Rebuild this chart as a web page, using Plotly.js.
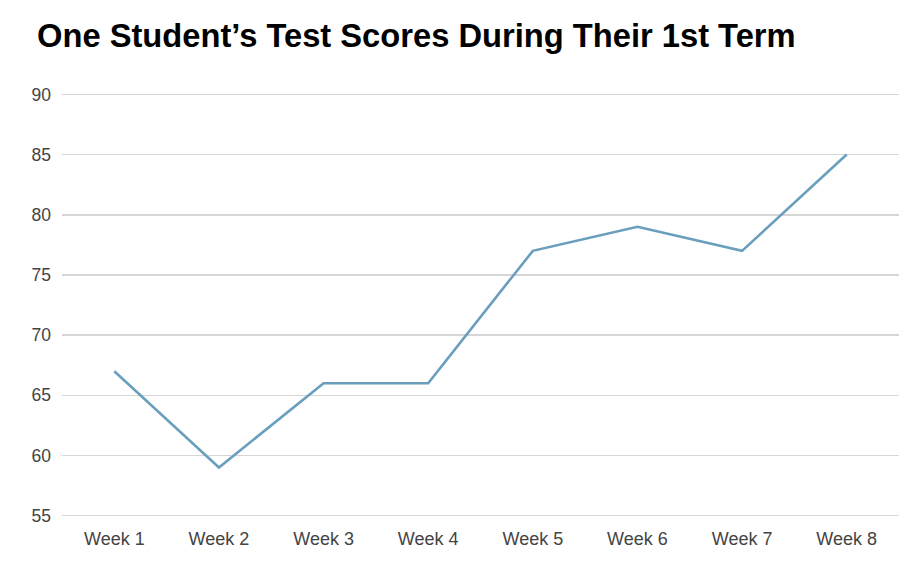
<!DOCTYPE html>
<html><head><meta charset="utf-8">
<script src="https://cdn.plot.ly/plotly-3.0.1.min.js"></script>
<style>html,body{margin:0;padding:0;background:#fff}#chart{width:917px;height:576px}</style>
</head><body><div id="chart"></div>
<script>
const weeks = ["Week 1","Week 2","Week 3","Week 4","Week 5","Week 6","Week 7","Week 8"];
const scores = [67, 59, 66, 66, 77, 79, 77, 85];
const yTicks = [55, 60, 65, 70, 75, 80, 85, 90];

const trace = {
  x: weeks, y: scores, type: "scatter", mode: "lines",
  line: {color: "#6a9ebd", width: 2.6}, hoverinfo: "skip"
};
const layout = {
  width: 917, height: 576,
  margin: {l: 62, r: 18, t: 91.5, b: 57.5},
  paper_bgcolor: "#fff", plot_bgcolor: "#fff",
  showlegend: false,
  title: {text: "<b>One Student’s Test Scores During Their 1st Term</b>",
    x: 37/917, xref: "container", xanchor: "left", y: 1 - 36/576, yref: "container", yanchor: "middle",
    font: {family: "Liberation Sans, Arial", size: 32.7, color: "#000"}},
  xaxis: {type: "category", range: [-0.5, 7.5], showgrid: false, zeroline: false,
    showline: false, ticks: "", tickfont: {family: "Liberation Sans, Arial", size: 18, color: "#444"}, ticklabelstandoff: 8},
  yaxis: {range: [54.8, 90.2], tickvals: yTicks, showgrid: true, gridcolor: "#d6d6d6", gridwidth: 1.5,
    zeroline: false, showline: false, ticks: "", tickfont: {family: "Liberation Sans, Arial", size: 17.5, color: "#444"}, ticklabelstandoff: 10}
};
Plotly.newPlot("chart", [trace], layout, {displayModeBar: false, staticPlot: true});
</script></body></html>
